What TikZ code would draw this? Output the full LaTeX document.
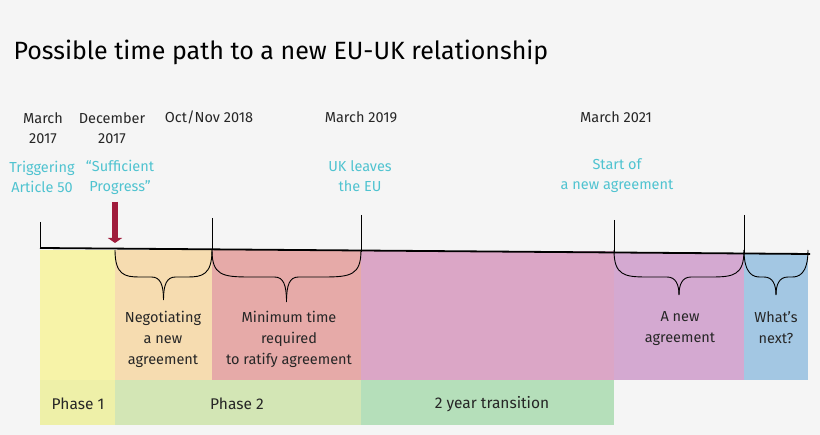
\documentclass[tikz,border=0pt]{standalone}
\usepackage{fontspec}
\usetikzlibrary{arrows.meta}
\setmainfont{Fira Sans}
\definecolor{bg}{HTML}{F5F5F5}
\definecolor{cy}{HTML}{4FC3D0}
\definecolor{ye}{HTML}{F7F3A8}
\definecolor{orx}{HTML}{F6DCB0}
\definecolor{rdx}{HTML}{E6AAA8}
\definecolor{pkx}{HTML}{DBA6C6}
\definecolor{lix}{HTML}{D4A9D1}
\definecolor{blx}{HTML}{A3C7E3}
\definecolor{g1}{HTML}{EEF0A8}
\definecolor{g2}{HTML}{D3E6B5}
\definecolor{g3}{HTML}{B5DFBA}
\definecolor{arr}{HTML}{A01C3C}
\begin{document}
\begin{tikzpicture}[x=1pt,y=-1pt,
  dt/.style={font=\fontsize{14.5}{20}\selectfont,align=center,text=black!85},
  ev/.style={font=\fontsize{14.5}{20}\selectfont,align=center,text=cy},
  lb/.style={font=\fontsize{14.5}{21}\selectfont,align=center,text=black!85},
  ph/.style={font=\fontsize{15.5}{20}\selectfont,text=black!85},
  brc/.style={line width=0.9pt}]
\fill[bg] (0,0) rectangle (820,435);
\useasboundingbox (0,0) rectangle (820,435);
\node[anchor=west,font=\fontsize{25}{30}\selectfont] (title) at (10,52) {Possible time path to a new EU-UK relationship};
% bands
\fill[ye] (40,250) rectangle (115,380);
\fill[orx] (115,250) rectangle (212,380);
\fill[rdx] (212,250) rectangle (361,380);
\fill[pkx] (361,251) rectangle (614,380);
\fill[lix] (614,253) rectangle (744,380);
\fill[blx] (744,254) rectangle (808,380);
\fill[g1] (40,380) rectangle (115,425);
\fill[g2] (115,380) rectangle (361,425);
\fill[g3] (361,380) rectangle (614,425);
% timeline
\coordinate (t0) at (40,248);
\coordinate (t1) at (810,254);
\draw[line width=1.8pt] (t0) -- (t1);
\foreach \x/\ya/\yb in {40/222/248, 212/218/250, 361/215/252, 614/220/253, 744/215/254}
  \draw[line width=1pt] (\x,\ya) -- (\x,\yb);
% braces
\foreach \a/\b/\d in {115/212/50, 212/361/52, 614/744/45, 744/808/45}{
  \pgfmathsetmacro{\m}{(\a+\b)/2}
  \draw[brc] (\a,250) .. controls (\a,275) and (\a+10,277) .. (\a+0.25*\b-0.25*\a,277)
    -- (\m-12,277) .. controls (\m-3,277) and (\m,285) .. (\m,250+\d);
  \draw[brc] (\b,250) .. controls (\b,275) and (\b-10,277) .. (\b-0.25*\b+0.25*\a,277)
    -- (\m+12,277) .. controls (\m+3,277) and (\m,285) .. (\m,250+\d);
}
% arrow
\coordinate (ar0) at (115,202);
\coordinate (ar1) at (115,243);
\draw[arr,line width=6pt,-{Triangle[length=5pt,width=14pt]}] (ar0) -- (ar1);
% dates
\node[dt] (d1) at (43,128) {March\\2017};
\node[dt] (d2) at (112,128) {December\\2017};
\node[dt] (d3) at (209,117) {Oct/Nov 2018};
\node[dt] (d4) at (361,117) {March 2019};
\node[dt] (d5) at (616,117) {March 2021};
\node[ev] (e1) at (42,177) {Triggering\\Article 50};
\node[ev] (e2) at (120,177) {“Sufficient\\Progress”};
\node[ev] (e3) at (360,176) {UK leaves\\the EU};
\node[ev] (e4) at (617,176) {Start of\\a new agreement};
% labels
\node[lb] (l1) at (163,339) {Negotiating\\a new\\agreement};
\node[lb] (l2) at (289,339) {Minimum time\\required\\to ratify agreement};
\node[lb] (l3) at (680,329) {A new\\agreement};
\node[lb] (l4) at (776,328) {What’s\\next?};
\node[ph] (p1) at (78,404) {Phase 1};
\node[ph] (p2) at (237,404) {Phase 2};
\node[ph] (p3) at (492,404) {2 year transition};
\end{tikzpicture}
\end{document}
